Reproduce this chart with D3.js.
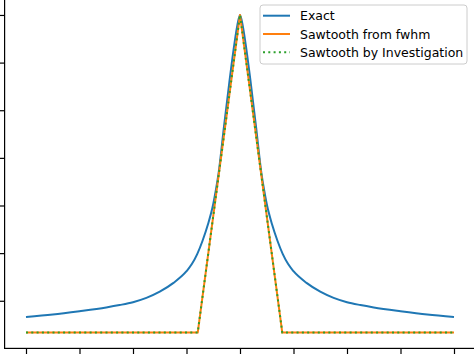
<!DOCTYPE html>
<html>
<head>
<meta charset="utf-8">
<script src="https://cdn.jsdelivr.net/npm/d3@7"></script>
<style>
  html, body { margin: 0; padding: 0; background: #fff; }
  svg { display: block; }
  text { font-family: "DejaVu Sans", sans-serif; }
</style>
</head>
<body>
<svg id="chart" width="474" height="354"></svg>
<script>
// ---- data ----
const exactX = [-4.0, -3.5, -3.0, -2.5, -2.25, -2.0, -1.75, -1.5, -1.25, -1.0, -0.9, -0.8, -0.7, -0.6, -0.5, -0.45, -0.4, -0.3, -0.2, -0.1, -0.05, 0,
                0.05, 0.1, 0.2, 0.3, 0.4, 0.45, 0.5, 0.6, 0.7, 0.8, 0.9, 1.0, 1.25, 1.5, 1.75, 2.0, 2.25, 2.5, 3.0, 3.5, 4.0];
const exactY = [0.366, 0.371, 0.378, 0.386, 0.391, 0.397, 0.406, 0.419, 0.437, 0.462, 0.477, 0.498, 0.526, 0.560, 0.603, 0.633, 0.668, 0.765, 0.858, 0.943, 0.978, 1.0,
                0.978, 0.943, 0.858, 0.765, 0.668, 0.633, 0.603, 0.560, 0.526, 0.498, 0.477, 0.462, 0.437, 0.419, 0.406, 0.397, 0.391, 0.386, 0.378, 0.371, 0.366];
const fwhmX = [-4.0, -0.79, 0, 0.79, 4.0];
const fwhmY = [0.3333, 0.3333, 1.0, 0.3333, 0.3333];
const investX = [-4.0, -0.79, 0, 0.79, 4.0];
const investY = [0.3333, 0.3333, 1.0, 0.3333, 0.3333];
const xTicks = [-4, -3, -2, -1, 0, 1, 2, 3, 4];
const yTicks = [0.4, 0.5, 0.6, 0.7, 0.8, 0.9, 1.0];
const seriesNames = ["Exact", "Sawtooth from fwhm", "Sawtooth by Investigation"];
const seriesColors = ["#1f77b4", "#ff7f0e", "#2ca02c"];

// ---- layout ----
const svg = d3.select("#chart");
const pLeft = 4.6, pRight = 475.4, pTop = -0.9, pBottom = 348.4;
const x = d3.scaleLinear().domain([-4.4, 4.4]).range([pLeft, pRight]);
const y = d3.scaleLinear().domain([0.3, 1.0333]).range([pBottom, pTop]);

const line = d3.line().x(d => x(d[0])).y(d => y(d[1])).curve(d3.curveMonotoneX);
const lineLin = d3.line().x(d => x(d[0])).y(d => y(d[1]));

const zip = (a, b) => a.map((v, i) => [v, b[i]]);

const plot = svg.append("g");
plot.append("path").datum(zip(exactX, exactY))
  .attr("d", line).attr("fill", "none")
  .attr("stroke", seriesColors[0]).attr("stroke-width", 2).attr("stroke-linejoin", "round");
plot.append("path").datum(zip(fwhmX, fwhmY))
  .attr("d", lineLin).attr("fill", "none")
  .attr("stroke", seriesColors[1]).attr("stroke-width", 2).attr("stroke-linejoin", "round");
plot.append("path").datum(zip(investX, investY))
  .attr("d", lineLin).attr("fill", "none")
  .attr("stroke", seriesColors[2]).attr("stroke-width", 2)
  .attr("stroke-dasharray", "2,3.3");

// ---- axes ----
const xAxis = d3.axisBottom(x).tickValues(xTicks).tickSize(6).tickFormat("");
const yAxis = d3.axisLeft(y).tickValues(yTicks).tickSize(6).tickFormat("");
const gx = svg.append("g").attr("transform", `translate(0,${pBottom})`).call(xAxis);
const gy = svg.append("g").attr("transform", `translate(${pLeft},0)`).call(yAxis);
[gx, gy].forEach(g => {
  g.select(".domain").remove();
  g.selectAll(".tick line").attr("stroke", "#000").attr("stroke-width", 1.2);
});
// spines
svg.append("rect").attr("x", pLeft).attr("y", pTop)
  .attr("width", pRight - pLeft).attr("height", pBottom - pTop)
  .attr("fill", "none").attr("stroke", "#000").attr("stroke-width", 1.2);

// ---- legend ----
const lg = svg.append("g");
lg.append("rect").attr("x", 260).attr("y", 5).attr("width", 207).attr("height", 59)
  .attr("rx", 3).attr("fill", "#fff").attr("fill-opacity", 0.8)
  .attr("stroke", "#cccccc").attr("stroke-width", 1);
seriesNames.forEach((name, i) => {
  const yy = 15.7 + i * 18.3;
  const l = lg.append("line").attr("x1", 263).attr("x2", 290).attr("y1", yy).attr("y2", yy)
    .attr("stroke", seriesColors[i]).attr("stroke-width", 2);
  if (i === 2) l.attr("stroke-dasharray", "2,3.3");
  lg.append("text").attr("x", 300).attr("y", yy).attr("dy", "0.36em")
    .attr("font-size", 12.5).attr("fill", "#000").text(name);
});
</script>
</body>
</html>
